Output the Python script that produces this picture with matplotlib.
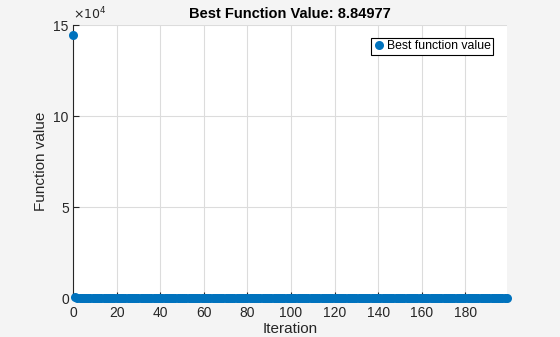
import matplotlib
matplotlib.use("Agg")
import matplotlib.pyplot as plt
import numpy as np

# best function value per iteration
startValues = [144500, 310.2, 95.7, 41.3, 22.8, 15.6, 12.4, 10.9, 10.1, 9.62,
               9.31, 9.12, 9.01, 8.95, 8.91, 8.88, 8.866, 8.858, 8.853, 8.851]
plateauValue = 8.84977
nIter = 200
bestValues = startValues + [plateauValue] * (nIter - len(startValues))
iterations = list(range(nIter))
xTicks = list(range(0, 200, 20))
yTicks = [0, 5e4, 10e4, 15e4]

plt.rcParams['font.family'] = ['Liberation Sans', 'DejaVu Sans']
blue = '#0072BD'

fig = plt.figure(figsize=(5.6, 3.37), dpi=100, facecolor='#f4f4f4')
ax = fig.add_axes([0.1304, 0.1157, 0.7746, 0.8101])
ax.set_facecolor('white')

ax.plot(iterations, bestValues, 'o', color=blue, markersize=6.5,
        markeredgewidth=0, label='Best function value', zorder=3, clip_on=False)

ax.set_xlim(0, 199)
ax.set_ylim(0, 15e4)
ax.set_xticks(xTicks)
ax.set_yticks(yTicks)
ax.set_yticklabels(['0', '5', '10', '15'])
ax.text(0.0, 1.01, r'$\times10^4$', transform=ax.transAxes, fontsize=9,
        color='#262626', ha='left', va='bottom')

ax.grid(True, color='#dcdcdc', linewidth=0.8)
ax.set_axisbelow(True)
for side in ['top', 'right']:
    ax.spines[side].set_visible(False)
ax.spines['left'].set_color('#262626')
ax.spines['bottom'].set_color('#262626')
ax.tick_params(direction='in', length=4, labelsize=10, colors='#262626')
ax.tick_params(axis='x', pad=6)
ax.tick_params(axis='y', pad=3)

ax.set_title('Best Function Value: 8.84977', fontsize=10.5, fontweight='bold', pad=5)
ax.set_xlabel('Iteration', fontsize=11, color='#262626', labelpad=1)
ax.set_ylabel('Function value', fontsize=11, color='#262626', labelpad=4)

leg = ax.legend(loc='upper right', fontsize=8.8, fancybox=False, framealpha=1,
                edgecolor='black', handletextpad=0.1, borderpad=0.2,
                handlelength=1.0, bbox_to_anchor=(0.982, 0.975))
leg.get_frame().set_linewidth(0.8)

fig.savefig('out.png', dpi=100, facecolor=fig.get_facecolor())
